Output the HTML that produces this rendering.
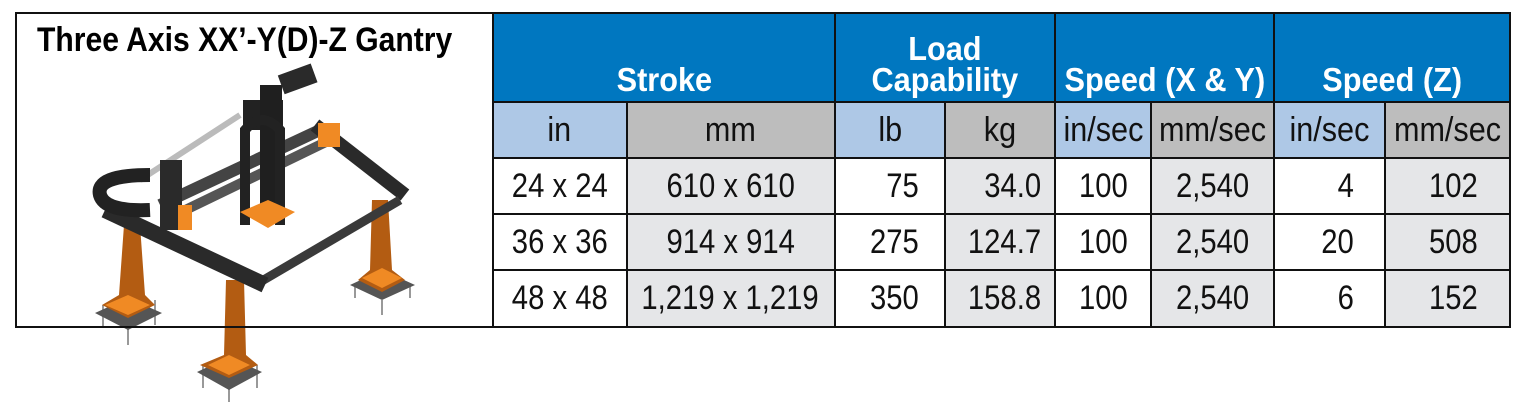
<!DOCTYPE html>
<html><head><meta charset="utf-8"><style>
*{margin:0;padding:0;box-sizing:border-box}
body{width:1536px;height:411px;background:#fff;position:relative;overflow:hidden;font-family:"Liberation Sans Narrow","Liberation Sans",sans-serif}
.c{position:absolute;display:flex;align-items:center;justify-content:center;color:#111;font-size:34px;white-space:nowrap}
.h{background:#0077c0;color:#fff;font-weight:bold;font-size:33px;line-height:31px;text-align:center;align-items:flex-end;padding-bottom:7px}
.h .t{transform:scaleX(0.93)}
.s .t{transform:scaleX(0.9)}
.b{background:#aec8e6}.g{background:#bdbdbd}.l{background:#e5e6e8}.w{background:#fff}
.r{justify-content:flex-end}
.t{display:inline-block;transform:scaleX(0.86)}
.vl{position:absolute;background:#111;width:2px}
.hl{position:absolute;background:#111;height:2px}
</style></head><body>
<div style="position:absolute;left:15px;top:12px;width:1496px;height:316px;border:2px solid #111"></div>
<div style="position:absolute;left:37px;top:21px;font-weight:bold;font-size:34px;color:#000"><span class="t" style="transform-origin:left;transform:scaleX(0.885)">Three Axis XX’-Y(D)-Z Gantry</span></div>
<svg style="position:absolute;left:0;top:0" width="500" height="411">
<g stroke="#999" stroke-width="2">
<line x1="103" y1="305" x2="103" y2="328"/><line x1="155" y1="300" x2="155" y2="325"/><line x1="128" y1="318" x2="128" y2="345"/>
<line x1="203" y1="365" x2="203" y2="388"/><line x1="257" y1="365" x2="257" y2="388"/><line x1="229" y1="380" x2="229" y2="402"/>
<line x1="355" y1="285" x2="355" y2="298"/><line x1="410" y1="285" x2="410" y2="298"/><line x1="382" y1="300" x2="382" y2="315"/>
</g>
<polygon points="95,313 128,298 162,313 128,330" fill="#555"/>
<polygon points="197,372 229,357 262,372 229,390" fill="#555"/>
<polygon points="350,285 382,270 415,285 382,300" fill="#555"/>
<polygon points="124,225 140,225 145,295 155,305 128,318 102,305 119,295" fill="#b35c12"/>
<polygon points="226,280 244,280 246,355 258,365 229,378 200,365 224,355" fill="#b35c12"/>
<polygon points="372,200 388,200 392,270 405,280 382,292 358,280 370,270" fill="#b35c12"/>
<polygon points="105,305 128,295 150,305 128,315" fill="#f08a24"/>
<polygon points="208,365 229,355 250,365 229,375" fill="#f08a24"/>
<polygon points="362,278 382,268 402,278 382,288" fill="#f08a24"/>
<g stroke="#2a2a2a" stroke-linecap="butt">
<line x1="160" y1="205" x2="320" y2="130" stroke-width="12" stroke="#444"/>
<line x1="140" y1="180" x2="240" y2="115" stroke-width="6" stroke="#bbb"/>
<line x1="175" y1="215" x2="330" y2="140" stroke-width="10" stroke="#555"/>
<line x1="315" y1="125" x2="405" y2="195" stroke-width="14"/>
<line x1="255" y1="285" x2="400" y2="200" stroke-width="9" stroke="#3a3a3a"/>
<line x1="105" y1="210" x2="265" y2="285" stroke-width="16"/>
</g>
<path d="M150,175 Q95,175 100,195 Q105,212 150,210" fill="none" stroke="#222" stroke-width="14"/>
<rect x="160" y="160" width="22" height="70" fill="#2a2a2a"/>
<rect x="243" y="100" width="40" height="30" fill="#222"/>
<rect x="260" y="85" width="22" height="120" fill="#1f1f1f"/>
<rect x="280" y="68" width="35" height="20" fill="#2a2a2a" transform="rotate(-20 300 78)"/>
<path d="M245,225 L245,130 Q262,110 280,130 L280,225" fill="none" stroke="#222" stroke-width="10"/>
<polygon points="240,212 268,200 295,212 268,228" fill="#f08a24"/>
<rect x="178" y="205" width="14" height="25" fill="#f08a24"/>
<rect x="318" y="123" width="22" height="24" fill="#f08a24"/>
</svg>
<div class="c h" style="left:493px;top:12px;width:342px;height:90px"><span class="t">Stroke</span></div>
<div class="c h" style="left:835px;top:12px;width:220px;height:90px"><span class="t">Load<br>Capability</span></div>
<div class="c h" style="left:1055px;top:12px;width:219px;height:90px"><span class="t">Speed (X &amp; Y)</span></div>
<div class="c h" style="left:1274px;top:12px;width:236px;height:90px"><span class="t">Speed (Z)</span></div>
<div class="c s b" style="left:493px;top:102px;width:133px;height:56px"><span class="t">in</span></div>
<div class="c s g" style="left:626px;top:102px;width:209px;height:56px"><span class="t">mm</span></div>
<div class="c s b" style="left:835px;top:102px;width:110px;height:56px"><span class="t">lb</span></div>
<div class="c s g" style="left:945px;top:102px;width:110px;height:56px"><span class="t">kg</span></div>
<div class="c s b" style="left:1055px;top:102px;width:96px;height:56px"><span class="t">in/sec</span></div>
<div class="c s g" style="left:1151px;top:102px;width:123px;height:56px"><span class="t">mm/sec</span></div>
<div class="c s b" style="left:1274px;top:102px;width:110px;height:56px"><span class="t">in/sec</span></div>
<div class="c s g" style="left:1384px;top:102px;width:126px;height:56px"><span class="t">mm/sec</span></div>

<div class="c w" style="left:493px;top:158px;width:133px;height:56px"><span class="t">24 x 24</span></div>
<div class="c l" style="left:626px;top:158px;width:209px;height:56px"><span class="t">610 x 610</span></div>
<div class="c w r" style="left:835px;top:158px;width:110px;height:56px;padding-right:26px"><span class="t" style="transform-origin:right">75</span></div>
<div class="c l r" style="left:945px;top:158px;width:110px;height:56px;padding-right:14px"><span class="t" style="transform-origin:right">34.0</span></div>
<div class="c w" style="left:1055px;top:158px;width:96px;height:56px"><span class="t">100</span></div>
<div class="c l" style="left:1151px;top:158px;width:123px;height:56px"><span class="t">2,540</span></div>
<div class="c w r" style="left:1274px;top:158px;width:110px;height:56px;padding-right:30px"><span class="t" style="transform-origin:right">4</span></div>
<div class="c l r" style="left:1384px;top:158px;width:126px;height:56px;padding-right:32px"><span class="t" style="transform-origin:right">102</span></div>

<div class="c w" style="left:493px;top:214px;width:133px;height:56px"><span class="t">36 x 36</span></div>
<div class="c l" style="left:626px;top:214px;width:209px;height:56px"><span class="t">914 x 914</span></div>
<div class="c w r" style="left:835px;top:214px;width:110px;height:56px;padding-right:26px"><span class="t" style="transform-origin:right">275</span></div>
<div class="c l r" style="left:945px;top:214px;width:110px;height:56px;padding-right:14px"><span class="t" style="transform-origin:right">124.7</span></div>
<div class="c w" style="left:1055px;top:214px;width:96px;height:56px"><span class="t">100</span></div>
<div class="c l" style="left:1151px;top:214px;width:123px;height:56px"><span class="t">2,540</span></div>
<div class="c w r" style="left:1274px;top:214px;width:110px;height:56px;padding-right:30px"><span class="t" style="transform-origin:right">20</span></div>
<div class="c l r" style="left:1384px;top:214px;width:126px;height:56px;padding-right:32px"><span class="t" style="transform-origin:right">508</span></div>

<div class="c w" style="left:493px;top:270px;width:133px;height:57px"><span class="t">48 x 48</span></div>
<div class="c l" style="left:626px;top:270px;width:209px;height:57px"><span class="t">1,219 x 1,219</span></div>
<div class="c w r" style="left:835px;top:270px;width:110px;height:57px;padding-right:26px"><span class="t" style="transform-origin:right">350</span></div>
<div class="c l r" style="left:945px;top:270px;width:110px;height:57px;padding-right:14px"><span class="t" style="transform-origin:right">158.8</span></div>
<div class="c w" style="left:1055px;top:270px;width:96px;height:57px"><span class="t">100</span></div>
<div class="c l" style="left:1151px;top:270px;width:123px;height:57px"><span class="t">2,540</span></div>
<div class="c w r" style="left:1274px;top:270px;width:110px;height:57px;padding-right:30px"><span class="t" style="transform-origin:right">6</span></div>
<div class="c l r" style="left:1384px;top:270px;width:126px;height:57px;padding-right:32px"><span class="t" style="transform-origin:right">152</span></div>

<div class="vl" style="left:492px;top:12px;height:316px"></div>
<div class="vl" style="left:834px;top:12px;height:316px"></div>
<div class="vl" style="left:1054px;top:12px;height:316px"></div>
<div class="vl" style="left:1273px;top:12px;height:316px"></div>
<div class="vl" style="left:626px;top:102px;height:226px"></div>
<div class="vl" style="left:944px;top:102px;height:226px"></div>
<div class="vl" style="left:1150px;top:102px;height:226px"></div>
<div class="vl" style="left:1384px;top:102px;height:226px"></div>
<div class="hl" style="left:492px;top:101px;width:1019px"></div>
<div class="hl" style="left:492px;top:157px;width:1019px"></div>
<div class="hl" style="left:492px;top:213px;width:1019px"></div>
<div class="hl" style="left:492px;top:269px;width:1019px"></div>
<div class="hl" style="left:15px;top:12px;width:1496px"></div>
<div class="hl" style="left:15px;top:326px;width:1496px"></div>
<div class="vl" style="left:1509px;top:12px;height:316px"></div>
</body></html>
